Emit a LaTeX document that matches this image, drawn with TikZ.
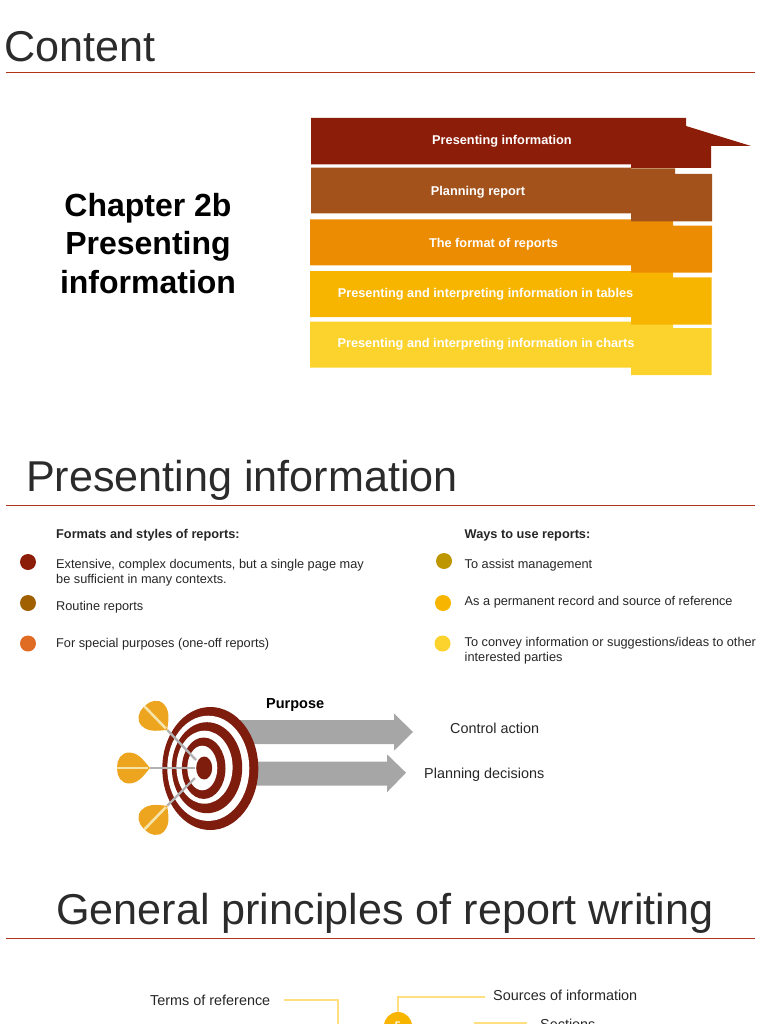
\documentclass[tikz,border=0pt]{standalone}
\usepackage{fontspec}
\setmainfont{Liberation Sans}
\definecolor{bandA}{HTML}{8C1D08}
\definecolor{bandB}{HTML}{A2521A}
\definecolor{bandC}{HTML}{EC8C02}
\definecolor{bandD}{HTML}{F8B500}
\definecolor{bandE}{HTML}{FCD22C}
\definecolor{rulered}{HTML}{B0341A}
\definecolor{titlegray}{HTML}{2B2B2B}
\definecolor{ringred}{HTML}{7E1C0E}
\definecolor{dartyellow}{HTML}{EDA41E}
\definecolor{stripeyellow}{HTML}{F6E3A8}
\definecolor{linkyellow}{HTML}{FFDF80}
\tikzset{
	title/.style={anchor=base west, inner sep=0, font=\fontsize{43.15}{43}\selectfont, text=titlegray},
	bandtext/.style={text=white, inner sep=0, font=\fontsize{12.75}{14}\selectfont\bfseries},
	item/.style={anchor=base west, inner sep=0, align=left, font=\fontsize{12.75}{15}\selectfont, text=black!85},
	head/.style={item, font=\fontsize{12.75}{15}\selectfont\bfseries},
	dot/.style={circle, inner sep=0, minimum size=16pt},
	label/.style={anchor=base west, inner sep=0, font=\fontsize{14.4}{17}\selectfont, text=black!85},
	link/.style={draw=linkyellow, line width=1.3pt},
	purposearrow/.style={fill=black!35},
}
\begin{document}
\begin{tikzpicture}[x=1pt,y=-1pt]
	\useasboundingbox (0,0) rectangle (768,1024);
	\clip (0,0) rectangle (768,1024);
	% titles
	\node[title] (content) at (4,62) {Content};
	\node[title] (presenting) at (26,491) {Presenting information};
	\node[title] (general) at (56,924) {General principles of report writing};
	\coordinate (r1a) at (6,72.5);
	\coordinate (r1b) at (755,72.5);
	\coordinate (r2a) at (6,505.5);
	\coordinate (r2b) at (755,505.5);
	\coordinate (r3a) at (6,938.5);
	\coordinate (r3b) at (755,938.5);
	\draw[rulered] (r1a) -- (r1b);
	\draw[rulered] (r2a) -- (r2b);
	\draw[rulered] (r3a) -- (r3b);
	% chapter
	\node[align=center, inner sep=0, font=\fontsize{32}{38.5}\selectfont\bfseries] (chapter) at (148,243.5) {Chapter 2b\\Presenting\\information};
	% bands, lowest first
	\fill[bandE] (310,321.7) -- (673,321.7) -- (673,328) -- (711.5,328) -- (711.5,375) -- (631,375) -- (631,367.7) -- (310,367.7) -- cycle;
	\fill[bandD] (310,271) -- (673,271) -- (673,277.3) -- (711.5,277.3) -- (711.5,324.7) -- (631,324.7) -- (631,317) -- (310,317) -- cycle;
	\fill[bandC] (310,219.3) -- (631,219.3) -- (631,221) -- (673,221) -- (673,225.7) -- (712,225.7) -- (712,272.7) -- (631,272.7) -- (631,265.3) -- (310,265.3) -- cycle;
	\fill[bandB] (311,167.7) -- (631,167.7) -- (631,168.5) -- (675,168.5) -- (675,174) -- (712,174) -- (712,221.3) -- (631,221.3) -- (631,213.3) -- (311,213.3) -- cycle;
	\fill[bandA] (311,118) -- (686,118) -- (686,126) -- (751,146) -- (711,146) -- (711,168) -- (631,168) -- (631,164.5) -- (311,164.5) -- cycle;
	\node[bandtext] (b1) at (502,141.5) {Presenting information};
	\node[bandtext] (b2) at (478,192) {Planning report};
	\node[bandtext] (b3) at (493.5,244) {The format of reports};
	\node[bandtext] (b4) at (485.5,294) {Presenting and interpreting information in tables};
	\node[bandtext] (b5) at (486,344) {Presenting and interpreting information in charts};
	% left list
	\node[head] (formats) at (56,538) {Formats and styles of reports:};
	\node[dot, fill=bandA] (d1) at (28,562) {};
	\node[item] (t1) at (56,583.5) {Extensive, complex documents, but a single page may\\be sufficient in many contexts.};
	\node[dot, fill={rgb,255:red,160;green,96;blue,0}] (d2) at (28,603) {};
	\node[item] (t2) at (56,610) {Routine reports};
	\node[dot, fill={rgb,255:red,224;green,108;blue,36}] (d3) at (28,643.5) {};
	\node[item] (t3) at (56,647.5) {For special purposes (one-off reports)};
	% right list
	\node[head] (ways) at (464.5,538) {Ways to use reports:};
	\node[dot, fill={rgb,255:red,190;green,150;blue,0}] (d4) at (444,561) {};
	\node[item] (t4) at (464.5,568.5) {To assist management};
	\node[dot, fill=bandD] (d5) at (443,603) {};
	\node[item] (t5) at (464.5,605) {As a permanent record and source of reference};
	\node[dot, fill=bandE] (d6) at (442.5,643.5) {};
	\node[item] (t6) at (464.5,661.5) {To convey information or suggestions/ideas to other\\interested parties};
	% purpose arrows
	\fill[purposearrow] (240,720) -- (394,720) -- (394,713.5) -- (413,732) -- (394,750.7) -- (394,744) -- (240,744) -- cycle;
	\fill[purposearrow] (250,761.7) -- (387,761.7) -- (387,754.3) -- (406,772.7) -- (387,792.3) -- (387,785.7) -- (250,785.7) -- cycle;
	% target
	\fill[ringred] (210.3,768.5) ellipse (48 and 61.5);
	\fill[white] (208.3,768.3) ellipse (41 and 52.6);
	\fill[ringred] (207,767.7) ellipse (35.2 and 45.5);
	\fill[white] (204.5,767.2) ellipse (28.1 and 36.5);
	\fill[ringred] (203.7,768.2) ellipse (21.8 and 30.7);
	\fill[white] (202.3,768) ellipse (15 and 22.3);
	\fill[ringred] (204.2,768) ellipse (8 and 11.5);
	% darts
	\foreach \ang/\tipx/\tipy/\endx/\endy in {-46/167.3/730/196/760,0/150/768/195/768,46/167.3/805.7/195/778}{
		\draw[black!30, line width=2.4pt] (\tipx,\tipy) -- (\endx,\endy);
		\begin{scope}[shift={(\tipx,\tipy)}, rotate=\ang]
			\fill[dartyellow] (0,0) .. controls (-4,-4) and (-10,-15.5) .. (-21,-15.5) .. controls (-29,-15.5) and (-33,-8) .. (-33,-1) -- (-32,0) -- (-33,1) .. controls (-33,8) and (-29,15.5) .. (-21,15.5) .. controls (-10,15.5) and (-4,4) .. (0,0) -- cycle;
			\draw[stripeyellow, line width=2.6pt] (-33,0) -- (-2,0);
		\end{scope}
	}
	% labels
	\node[anchor=base west, inner sep=0, font=\fontsize{14.5}{16}\selectfont\bfseries] (purpose) at (266,708) {Purpose};
	\node[label] (control) at (450,733.5) {Control action};
	\node[label] (planning) at (424,778) {Planning decisions};
	\node[label] (terms) at (150,1005.5) {Terms of reference};
	\node[label] (sources) at (493,1000.5) {Sources of information};
	\node[label] (sections) at (540,1029) {Sections};
	\node[circle, fill=bandD, minimum size=28pt, inner sep=0, text=white, font=\fontsize{11}{11}\selectfont\bfseries] (five) at (398,1026) {5};
	\coordinate (termsend) at (284,1000);
	\coordinate (termscorner) at (338,1000);
	\coordinate (termsdown) at (338,1030);
	\coordinate (sourcesend) at (485,997);
	\coordinate (sourcescorner) at (398,997);
	\coordinate (sectionsa) at (474,1023);
	\coordinate (sectionsb) at (527,1023);
	\draw[link] (termsend) -- (termscorner) -- (termsdown);
	\draw[link] (sourcesend) -- (sourcescorner) -- (five);
	\draw[link] (sectionsa) -- (sectionsb);
\end{tikzpicture}
\end{document}
